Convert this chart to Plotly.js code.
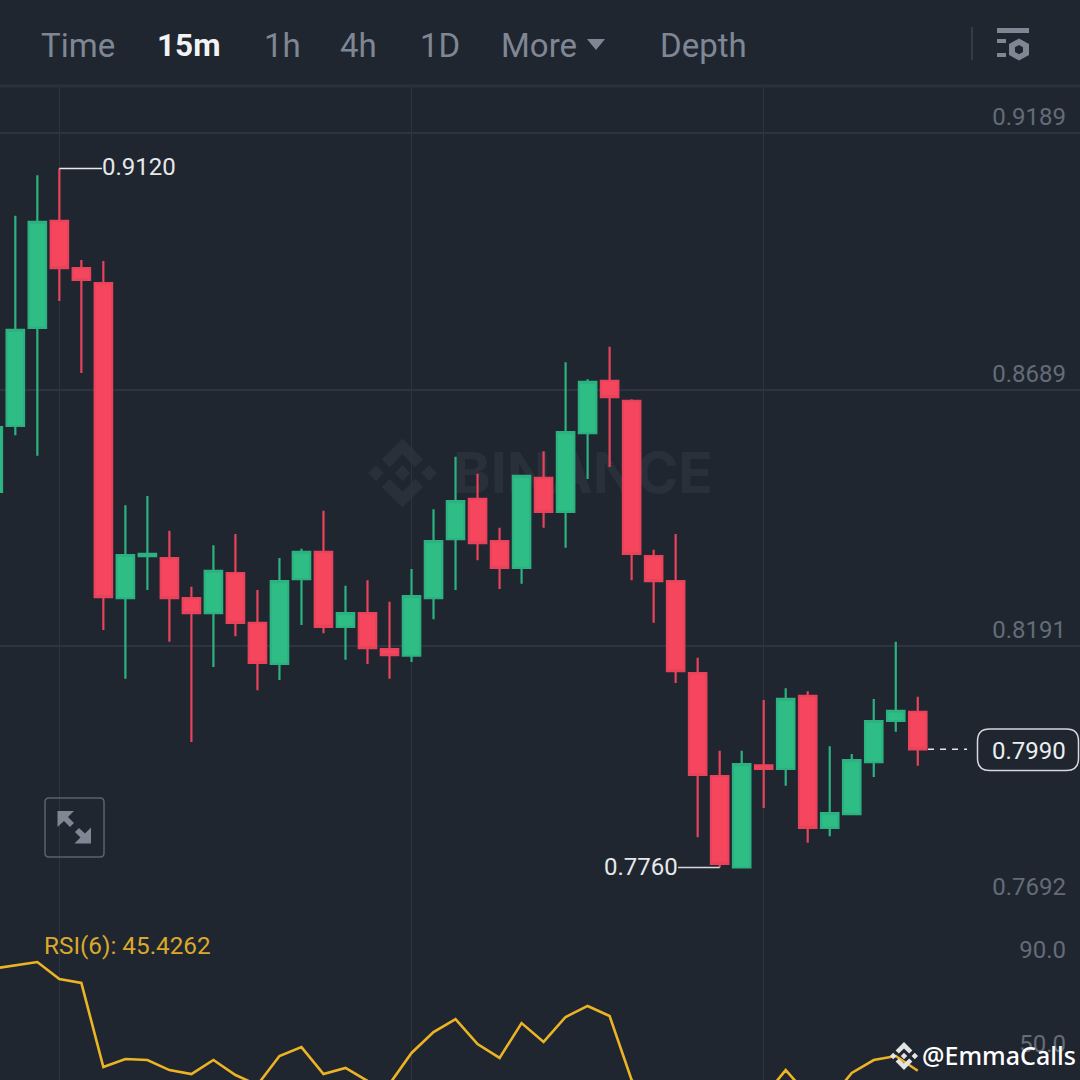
<!DOCTYPE html>
<html>
<head>
<meta charset="utf-8">
<script src="https://cdn.plot.ly/plotly-3.0.1.min.js"></script>
<style>html,body{margin:0;padding:0;background:#1f2630;overflow:hidden}#c{width:1080px;height:1080px}</style>
</head>
<body>
<div id="c"></div>
<script>
const opens = [.8491,.8619,.8810,.9018,.8926,.8897,.8284,.8366,.8362,.8284,.8255,.8333,.8236,.8156,.8321,.8374,.8228,.8255,.8185,.8172,.8284,.8399,.8477,.8395,.8343,.8518,.8452,.8605,.8707,.8668,.8366,.8317,.8138,.7938,.7760,.7959,.7952,.8094,.7837,.7864,.7965,.8045,.8063];
const closes = [.8617,.8806,.9016,.8926,.8903,.8286,.8368,.8370,.8284,.8255,.8337,.8236,.8158,.8317,.8374,.8228,.8255,.8187,.8173,.8288,.8395,.8473,.8391,.8343,.8522,.8452,.8607,.8705,.8675,.8370,.8317,.8142,.7940,.7767,.7961,.7952,.8088,.7837,.7866,.7969,.8045,.8065,.7990];
const highs = [.8650,.9028,.9107,.9120,.8942,.8940,.8465,.8483,.8415,.8306,.8387,.8409,.8300,.8362,.8380,.8454,.8308,.8319,.8277,.8341,.8457,.8559,.8526,.8421,.8522,.8570,.8743,.8710,.8773,.8671,.8378,.8409,.8168,.7987,.7987,.8086,.8109,.8103,.7996,.7981,.8088,.8199,.8092];
const lows = [.8475,.8601,.8561,.8862,.8722,.8222,.8127,.8300,.8199,.8004,.8150,.8210,.8105,.8125,.8232,.8216,.8164,.8156,.8127,.8160,.8243,.8300,.8358,.8302,.8312,.8421,.8382,.8516,.8539,.8319,.8236,.8119,.7819,.7760,.7760,.7876,.7919,.7808,.7821,.7864,.7936,.8024,.7958];
const rsi = [88.9,90.4,91.7,84.5,82.8,47.0,50.4,50.0,45.7,44.0,50.0,43.6,39.4,51.7,55.5,44.0,46.6,41.1,39.8,53.0,61.9,67.4,56.8,50.9,65.7,57.7,68.3,73.0,68.7,41.5,33.0,26.6,22.3,18.1,28.7,34.3,45.7,35.1,33.0,44.5,50.0,51.7,45.4262];
const candleIndex = opens.map((_, i) => i);
const priceTicks = [0.9189, 0.8689, 0.8191, 0.7692];
const priceTickLabels = ['0.9189', '0.8689', '0.8191', '0.7692'];
const rsiTicks = [90, 50];
const rsiTickLabels = ['90.0', '50.0'];
const timeGridIndex = [3, 19, 35];
const tabs = ['Time', '15m', '1h', '4h', '1D', 'More', 'Depth'];
const tabLeft = [41, 157, 264, 340, 420, 501, 660];
const highMark = 0.9120, lowMark = 0.7760, lastPrice = 0.7990;

const BG = '#1f2630', GRID = '#2e343f', GREEN = '#2ebd85', RED = '#f6465d';
const GRAY = '#7f8794', TICK = '#646c78', WM = '#2a303a';

const px = x => (x / 1080).toFixed(5);
const py = y => (1 - y / 1080).toFixed(5);
const P = (x, y) => px(x) + ',' + py(y);
const poly = pts => 'M' + pts.map(p => P(p[0], p[1])).join('L') + 'Z';
function rr(x0, y0, x1, y1, r) {
  return 'M' + P(x0 + r, y0) + 'L' + P(x1 - r, y0) + 'Q' + P(x1, y0) + ' ' + P(x1, y0 + r) +
    'L' + P(x1, y1 - r) + 'Q' + P(x1, y1) + ' ' + P(x1 - r, y1) +
    'L' + P(x0 + r, y1) + 'Q' + P(x0, y1) + ' ' + P(x0, y1 - r) +
    'L' + P(x0, y0 + r) + 'Q' + P(x0, y0) + ' ' + P(x0 + r, y0) + 'Z';
}
function logo(cx, cy, s) {
  const m = pts => pts.map(p => [cx + p[0] * s, cy + p[1] * s]);
  const dia = (dx) => poly(m([[dx, -.23], [dx + .23, 0], [dx, .23], [dx - .23, 0]]));
  return dia(0) + dia(-.77) + dia(.77) +
    poly(m([[0, -1], [.6, -.4], [.37, -.17], [0, -.54], [-.37, -.17], [-.6, -.4]])) +
    poly(m([[0, 1], [.6, .4], [.37, .17], [0, .54], [-.37, .17], [-.6, .4]]));
}
const pathShape = (path, fill, extra) => Object.assign({type: 'path', xref: 'paper', yref: 'paper', path, fillcolor: fill, line: {width: 0}}, extra || {});

// x axis: index -> pixel mapping of the screenshot
const xRange = [0.304, 49.37];
const xIdx = p => (p + 6.7) / 22.01;

const shapes = [
  // header rule
  {type: 'line', xref: 'paper', yref: 'paper', x0: 0, x1: 1, y0: py(86), y1: py(86), line: {color: '#2b313b', width: 3}},
  // header divider
  {type: 'line', xref: 'paper', yref: 'paper', x0: px(972), x1: px(972), y0: py(27), y1: py(60), line: {color: '#343b47', width: 2}},
  // settings icon
  pathShape(poly([[997, 28], [1029, 28], [1029, 33], [997, 33]]) + poly([[997, 39], [1006, 39], [1006, 43], [997, 43]]) + poly([[997, 53], [1006, 53], [1006, 57], [997, 57]]), GRAY),
  pathShape(poly([[1019, 38.5], [1029, 44], [1029, 55], [1019, 60.5], [1009, 55], [1009, 44]]), GRAY),
  pathShape(poly([[1019, 45], [1023, 47.3], [1023, 51.9], [1019, 54.2], [1015, 51.9], [1015, 47.3]]), BG),
  // dropdown triangle
  pathShape(poly([[587, 39], [605, 39], [596, 50]]), GRAY),
  // watermark
  pathShape(logo(402.5, 473, 34.5), WM, {layer: 'below'}),
  {type: 'rect', xref: 'paper', yref: 'paper', layer: 'below', x0: px(455), x1: px(711), y0: py(443), y1: py(498), line: {width: 0}, fillcolor: 'rgba(0,0,0,0)',
   label: {text: 'BINANCE', font: {family: 'Inter', size: 57, color: WM, weight: 700}, textposition: 'middle center'}},
  // high / low leaders
  {type: 'line', xref: 'x', yref: 'y', x0: 3, x1: xIdx(102), y0: highMark, y1: highMark, line: {color: '#e6e8ea', width: 1.5}},
  {type: 'line', xref: 'x', yref: 'y', x0: xIdx(678), x1: 33, y0: lowMark, y1: lowMark, line: {color: '#d5d8dc', width: 1.5}},
  // last price
  {type: 'line', xref: 'x', yref: 'y', x0: xIdx(928), x1: xIdx(967), y0: lastPrice, y1: lastPrice, line: {color: '#e6e8ea', width: 1.5, dash: '6px,6px'}},
  {type: 'path', xref: 'paper', yref: 'paper', path: rr(977.5, 729, 1078.5, 770.5, 12), fillcolor: BG, line: {color: '#d5d8dc', width: 1.5}},
  // expand button
  {type: 'path', xref: 'paper', yref: 'paper', path: rr(45, 798, 104, 857, 4), fillcolor: 'rgba(0,0,0,0)', line: {color: '#5a626f', width: 1.5}},
  pathShape(poly([[57.5, 811], [74, 811], [68, 817], [74, 823], [70, 827], [64, 821], [57.5, 827]]), GRAY),
  pathShape(poly([[91, 843.5], [74.5, 843.5], [80.5, 837.5], [75, 832], [79, 828], [85, 833.5], [91, 827.5]]), GRAY),
  // watermark logo of the repost
  pathShape(logo(904, 1056, 14), '#e4e4e4')
];

const text = (t, x, y, size, color, anchor, extra) => Object.assign({
  text: t, xref: 'paper', yref: 'paper', x: px(x), y: py(y), xanchor: anchor || 'left', yanchor: 'middle',
  showarrow: false, font: {family: 'Roboto', size, color}, borderpad: 0, borderwidth: 0
}, extra || {});

const annotations = tabs.map((t, i) => text(t, tabLeft[i], 46, 33,
  t === '15m' ? '#f2f3f5' : GRAY, 'left', t === '15m' ? {font: {family: 'Roboto', size: 31.5, color: '#f2f3f5', weight: 700}} : {}));
annotations.push(text('0.9120', 102, 167, 24, '#e6e8ea'));
annotations.push(text('0.7760', 678, 867, 24, '#e6e8ea', 'right'));
annotations.push(text('0.7990', 1066, 750.5, 24, '#eceef0', 'right'));
annotations.push(text('RSI(6): 45.4262', 44, 945, 24.3, '#dba92a'));
annotations.push(text('@EmmaCalls', 922, 1055, 25, '#ffffff', 'left', {font: {family: 'Noto Sans', size: 25, color: '#ffffff', weight: 500}}));

const data = [
  {type: 'candlestick', x: candleIndex, open: opens, high: highs, low: lows, close: closes, xaxis: 'x', yaxis: 'y',
   increasing: {line: {color: '#2cb280', width: 2.2}, fillcolor: GREEN},
   decreasing: {line: {color: '#e8435b', width: 2.2}, fillcolor: RED},
   whiskerwidth: 0, hoverinfo: 'skip', showlegend: false},
  {type: 'scatter', mode: 'lines', x: candleIndex, y: rsi, xaxis: 'x2', yaxis: 'y2',
   line: {color: '#ecb424', width: 2.6}, hoverinfo: 'skip', showlegend: false}
];

const vAxis = {zeroline: false, showline: false, ticks: '', showticklabels: false, tickmode: 'array', tickvals: timeGridIndex,
  showgrid: true, gridcolor: GRID, gridwidth: 1.3, range: xRange, fixedrange: true};
const hAxis = (vals, labels, extra) => Object.assign({
  side: 'right', tickmode: 'array', tickvals: vals, ticktext: labels, ticklabelposition: 'inside',
  ticklabelstandoff: 11, ticklabelshift: -16, tickfont: {family: 'Roboto', size: 24, color: TICK},
  zeroline: false, showline: false, ticks: '', fixedrange: true}, extra);

const layout = {
  width: 1080, height: 1080, margin: {l: 0, r: 0, t: 0, b: 0, pad: 0},
  paper_bgcolor: BG, plot_bgcolor: 'rgba(0,0,0,0)', showlegend: false, boxgap: 0.11, boxgroupgap: 0.11,
  xaxis: Object.assign({}, vAxis, {domain: [0, 1], anchor: 'y', rangeslider: {visible: false}, type: 'linear'}),
  xaxis2: Object.assign({}, vAxis, {domain: [0, 1], anchor: 'y2', type: 'linear'}),
  yaxis: hAxis(priceTicks, priceTickLabels, {
    anchor: 'x', domain: [1 - 903 / 1080, 1 - 87 / 1080],
    range: [0.944775 - 903 * 0.00019455, 0.944775 - 87 * 0.00019455],
    showgrid: true, gridcolor: GRID, gridwidth: 1.3}),
  yaxis2: hAxis(rsiTicks, rsiTickLabels, {
    anchor: 'x2', domain: [0, 1 - 903 / 1080],
    range: [90 - (1080 - 966) * 0.4255, 90 + 63 * 0.4255], showgrid: false}),
  shapes, annotations
};
Plotly.newPlot('c', data, layout, {displayModeBar: false, staticPlot: true});
</script>
</body>
</html>
